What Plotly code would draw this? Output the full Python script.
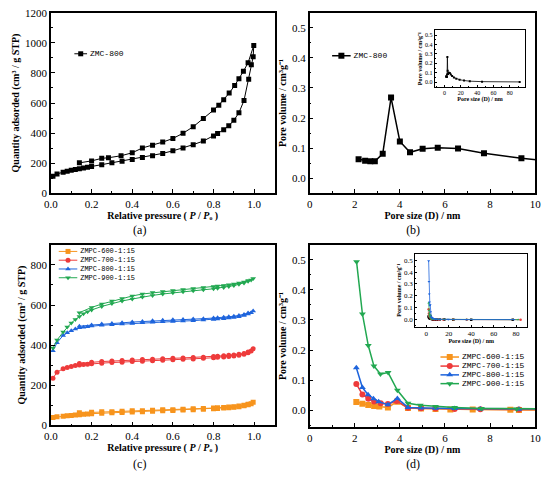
import plotly.graph_objects as go

W, H = 548, 481
def px(x): return x / W
def py(y): return 1 - y / H

# ---------------- data ----------------
# (a) ZMC-800 isotherm
a_ads_p = [0.01, 0.03, 0.06, 0.08, 0.10, 0.12, 0.14, 0.16, 0.18, 0.20, 0.25, 0.30, 0.35, 0.40, 0.45,
           0.50, 0.55, 0.60, 0.65, 0.70, 0.75, 0.80, 0.82, 0.85, 0.875, 0.90, 0.925, 0.95, 0.973,
           0.986, 0.995, 0.998]
a_ads_q = [113, 128, 140, 146, 152, 158, 163, 168, 173, 178, 190, 202, 213, 224, 237,
           250, 265, 282, 300, 323, 347, 380, 397, 423, 448, 485, 535, 617, 758,
           854, 907, 983]
a_des_p = [0.97, 0.947, 0.925, 0.904, 0.877, 0.85, 0.826, 0.80, 0.75, 0.70, 0.65, 0.60, 0.55,
           0.50, 0.45, 0.40, 0.345, 0.283, 0.25, 0.20, 0.14]
a_des_q = [868, 811, 761, 716, 666, 622, 586, 553, 497, 442, 399, 364, 340,
           319, 301, 269, 249, 236, 232, 215, 202]

# (b) ZMC-800 pore size distribution
b_d = [2.17, 2.46, 2.69, 2.89, 3.24, 3.61, 4.0, 4.45, 5.01, 5.68, 6.58, 7.73, 9.39,
       11.6, 14.5, 18.5, 24, 31, 46, 92]
b_v = [0.063, 0.058, 0.056, 0.056, 0.081, 0.268, 0.122, 0.086, 0.098, 0.101, 0.099, 0.083, 0.066,
       0.050, 0.038, 0.027, 0.018, 0.011, 0.006, 0.003]

# (c) ZMPC isotherms
c_ads_p = [0.01, 0.03, 0.06, 0.08, 0.10, 0.12, 0.14, 0.16, 0.18, 0.20, 0.25, 0.30, 0.35, 0.40, 0.45,
           0.50, 0.55, 0.60, 0.65, 0.70, 0.75, 0.80, 0.82, 0.85, 0.875, 0.90, 0.925, 0.95, 0.97,
           0.985, 0.995]
c_des_p = [0.97, 0.95, 0.925, 0.90, 0.875, 0.85, 0.82, 0.80, 0.75, 0.70, 0.65, 0.60, 0.55,
           0.50, 0.45, 0.40, 0.35, 0.30, 0.25, 0.20, 0.14]
c_names = ["ZMPC-600-1:15", "ZMPC-700-1:15", "ZMPC-800-1:15", "ZMPC-900-1:15"]
c600_ads = [39, 42, 45, 47, 49, 51, 53, 55, 56, 58, 60, 62, 64, 66, 68, 70, 72, 74, 76, 78, 80,
            83, 84, 86, 88, 90, 93, 97, 103, 108, 115]
c600_des = [105, 100, 96, 93, 91, 89, 87, 86, 84, 82, 80, 78, 77, 75, 73, 72, 70, 68, 67, 65, 62]
c700_ads = [235, 265, 282, 288, 293, 298, 301, 303, 305, 307, 310, 313, 315, 318, 320, 322, 324,
            327, 329, 331, 334, 337, 339, 341, 343, 346, 349, 354, 362, 370, 382]
c700_des = [366, 358, 354, 351, 349, 347, 345, 343, 340, 338, 336, 334, 332, 330, 328, 326, 323,
            321, 318, 314, 308]
c800_ads = [372, 412, 448, 462, 472, 480, 486, 489, 492, 495, 499, 502, 505, 508, 511, 514, 516,
            518, 520, 522, 525, 528, 530, 532, 535, 538, 542, 548, 555, 562, 570]
c800_des = [560, 553, 548, 544, 541, 539, 537, 535, 532, 530, 528, 526, 524, 521, 518, 515, 511,
            508, 505, 500, 494]
c900_ads = [385, 425, 465, 490, 510, 528, 543, 556, 566, 575, 593, 608, 620, 630, 640, 648, 655,
            661, 666, 671, 676, 681, 684, 688, 692, 697, 703, 710, 718, 725, 732]
c900_des = [722, 715, 710, 705, 701, 698, 695, 693, 688, 683, 678, 673, 668, 662, 655, 645, 632,
            620, 605, 588, 562]

# (d) ZMPC pore size distributions
d600_x = [2.07, 2.34, 2.6, 2.86, 3.09, 3.47, 3.88, 4.36, 4.94, 5.58, 6.24, 7.23, 8.9, 9.28,
          11.8, 16, 24, 40, 77]
d600_y = [0.027, 0.021, 0.017, 0.014, 0.012, 0.009, 0.028, 0.007, 0.005, 0.004, 0.002, 0.002, 0.001, 0.0,
          0.001, 0.001, 0.0, 0.0, 0.0]
d700_x = [2.07, 2.34, 2.6, 2.86, 3.15, 3.47, 3.86, 4.36, 4.94, 5.58, 6.43, 7.57, 9.28,
          11.5, 15, 24, 36, 84]
d700_y = [0.087, 0.052, 0.038, 0.029, 0.023, 0.020, 0.030, 0.008, 0.006, 0.005, 0.004, 0.003, 0.002,
          0.002, 0.001, 0.001, 0.0, 0.0]
d800_x = [2.07, 2.34, 2.59, 2.83, 3.06, 3.47, 3.89, 4.36, 4.94, 5.58, 6.43, 7.57, 9.28,
          11.6, 15.5, 24, 36, 81.8]
d800_y = [0.141, 0.075, 0.051, 0.038, 0.028, 0.018, 0.039, 0.009, 0.007, 0.006, 0.005, 0.004, 0.003,
          0.003, 0.002, 0.001, 0.001, 0.0]
d900_x = [2.08, 2.34, 2.6, 2.85, 3.14, 3.48, 3.89, 4.36, 4.91, 5.58, 6.43, 7.62, 9.18,
          12, 19.5, 35.8, 78]
d900_y = [0.494, 0.32, 0.215, 0.147, 0.120, 0.125, 0.066, 0.023, 0.016, 0.012, 0.009, 0.005, 0.004,
          0.003, 0.002, 0.001, 0.001]

panel_labels = ["(a)", "(b)", "(c)", "(d)"]

colors = ["#F7941D", "#EE3B3B", "#1E64DC", "#22A851"]
symbols = ["square", "circle", "triangle-up", "triangle-down"]
inset_colors = ["#000000", "#EE3B3B", "#22A851", "#1E64DC"]

SERIF = "Liberation Serif"
MONO = "Liberation Mono"

fig = go.Figure()

# (a)
fig.add_trace(go.Scatter(x=a_ads_p + a_des_p, y=a_ads_q + a_des_q, mode="lines+markers",
                         line=dict(color="black", width=1), marker=dict(symbol="square", size=5, color="black"),
                         xaxis="x", yaxis="y", showlegend=False, name="ZMC-800"))
# (b)
fig.add_trace(go.Scatter(x=b_d, y=b_v, mode="lines+markers", line=dict(color="black", width=1.5),
                         marker=dict(symbol="square", size=6, color="black"),
                         xaxis="x2", yaxis="y2", showlegend=False, name="ZMC-800"))
# (b) inset
fig.add_trace(go.Scatter(x=b_d, y=b_v, mode="lines+markers", line=dict(color="black", width=0.8),
                         marker=dict(symbol="square", size=2, color="black"),
                         xaxis="x5", yaxis="y5", showlegend=False, name="ZMC-800"))
# (c)
c_ads = [c600_ads, c700_ads, c800_ads, c900_ads]
c_des = [c600_des, c700_des, c800_des, c900_des]
for i in range(4):
    fig.add_trace(go.Scatter(x=c_ads_p + c_des_p, y=c_ads[i] + c_des[i], mode="lines+markers",
                             line=dict(color=colors[i], width=1),
                             marker=dict(symbol=symbols[i], size=5, color=colors[i]),
                             xaxis="x3", yaxis="y3", showlegend=False, name=c_names[i]))
# (d)
d_x = [d600_x, d700_x, d800_x, d900_x]
d_y = [d600_y, d700_y, d800_y, d900_y]
for i in range(4):
    fig.add_trace(go.Scatter(x=d_x[i], y=d_y[i], mode="lines+markers",
                             line=dict(color=colors[i], width=1.5),
                             marker=dict(symbol=symbols[i], size=6, color=colors[i]),
                             xaxis="x4", yaxis="y4", showlegend=False, name=c_names[i]))
for i in range(4):
    fig.add_trace(go.Scatter(x=d_x[i], y=d_y[i], mode="lines+markers",
                             line=dict(color=inset_colors[i], width=0.8),
                             marker=dict(symbol=symbols[i], size=2.5, color=inset_colors[i]),
                             xaxis="x6", yaxis="y6", showlegend=False, name=c_names[i]))

# ---------------- axes ----------------
def ax(domain, rng, dtick, minor_dtick, tickfmt=None, title=None, tsize=10, fsize=11,
       anchor=None, standoff=None, ticklen=4, tick0=None, lw=1.5):
    d = dict(domain=domain, range=rng, dtick=dtick, showline=True, linecolor="black", linewidth=lw,
             mirror=True, ticks="inside", ticklen=ticklen, tickwidth=1, tickcolor="black",
             showgrid=False, zeroline=False, anchor=anchor,
             tickfont=dict(family=SERIF, size=fsize, color="black"),
             minor=dict(ticks="inside", ticklen=max(ticklen // 2, 1), tickcolor="black", dtick=minor_dtick,
                        showgrid=False))
    if tick0 is not None:
        d["tick0"] = tick0
    if tickfmt:
        d["tickformat"] = tickfmt
    if title:
        t = dict(text=title, font=dict(family=SERIF, size=tsize, color="black", weight="bold"))
        if standoff is not None:
            t["standoff"] = standoff
        d["title"] = t
    return d

ya_title = "Quantity adsorded (cm\u00b3 / g STP)"
xa_title = "Relative pressure ( <i>P</i> / <i>P</i>\u2092 )"
yb_title = "Pore volume / cm\u00b3g\u207b\u00b9"
xb_title = "Pore size (D) / nm"

xa_dom = [px(45), px(274)]
xb_dom = [px(310), px(541)]
ytop_dom = [py(192), py(7)]
ybot_dom_c = [py(430), py(245)]
ybot_dom_d = [py(432), py(245)]

fig.update_layout(
    xaxis=ax(xa_dom, [0, 1.1], 0.2, 0.1, ".1f", xa_title, anchor="y", standoff=2),
    yaxis=ax(ytop_dom, [0, 1200], 200, 100, None, ya_title, anchor="x", standoff=3),
    xaxis2=ax(xb_dom, [0, 10], 2, 1, None, xb_title, anchor="y2", standoff=2),
    yaxis2=ax(ytop_dom, [-0.05, 0.55], 0.1, 0.05, ".1f", yb_title, anchor="x2", standoff=3, tick0=0),
    xaxis3=ax(xa_dom, [0, 1.1], 0.2, 0.1, ".1f", xa_title, anchor="y3", standoff=2),
    yaxis3=ax(ybot_dom_c, [0, 900], 200, 100, None, ya_title, anchor="x3", standoff=3),
    xaxis4=ax(xb_dom, [0, 10], 2, 1, None, xb_title, anchor="y4", standoff=2),
    yaxis4=ax(ybot_dom_d, [-0.057, 0.55], 0.1, 0.05, ".1f", yb_title, anchor="x4", standoff=3, tick0=0),
    xaxis5=ax([px(438), px(531)], [-12, 99], 20, 10, None, xb_title, tsize=6, fsize=6,
              anchor="y5", standoff=1, ticklen=2, lw=1),
    yaxis5=ax([py(83), py(25)], [-0.05, 0.55], 0.1, 0.05, ".1f", yb_title, tsize=6, fsize=6,
              anchor="x5", standoff=1, ticklen=2, tick0=0, lw=1),
    xaxis6=ax([px(418), px(533)], [-10, 90], 20, 10, None, xb_title, tsize=6, fsize=7,
              anchor="y6", standoff=1, ticklen=2, lw=1),
    yaxis6=ax([py(329), py(254)], [-0.06, 0.555], 0.1, 0.05, ".1f", yb_title, tsize=6, fsize=7,
              anchor="x6", standoff=1, ticklen=2, tick0=0, lw=1),
    # full-canvas overlay (pixel units) for legends and panel labels
    xaxis7=dict(domain=[0, 1], range=[0, W], visible=False, anchor="y7", fixedrange=True),
    yaxis7=dict(domain=[0, 1], range=[H, 0], visible=False, anchor="x7", fixedrange=True),
)

# ---------------- manual legends & labels (layout positions, in px) ----------------
shapes = []

def legend_block(x0, x1, rows, cols, syms, names, tsize, msize, lw):
    for y, c in zip(rows, cols):
        shapes.append(dict(type="line", xref="paper", yref="paper", x0=px(x0), x1=px(x1),
                           y0=py(y), y1=py(y), line=dict(color=c, width=lw)))
    xm = (x0 + x1) / 2
    fig.add_trace(go.Scatter(x=[xm] * len(rows), y=rows, mode="markers",
                             marker=dict(symbol=syms, size=msize, color=cols),
                             xaxis="x7", yaxis="y7", showlegend=False, hoverinfo="skip", cliponaxis=False))
    fig.add_trace(go.Scatter(x=[x1 + 3] * len(rows), y=rows, mode="text", text=names,
                             textposition="middle right",
                             textfont=dict(family=MONO, size=tsize, color="black"),
                             xaxis="x7", yaxis="y7", showlegend=False, hoverinfo="skip", cliponaxis=False))

legend_block(69, 82, [49], ["black"], ["square"], ["ZMC-800"], 8, 5, 1)
legend_block(333, 352, [51], ["black"], ["square"], ["ZMC-800"], 8, 6, 1.5)
legend_block(53, 72, [251.7, 260.7, 269.7, 278.7], colors, symbols, c_names, 7, 5, 1)
legend_block(444, 463, [360, 369.3, 378.3, 387.3], colors, symbols, c_names, 8, 6, 1.5)

fig.add_trace(go.Scatter(x=[136, 416, 136, 416], y=[231, 231, 471, 471], mode="text", text=panel_labels,
                         textposition="middle center",
                         textfont=dict(family=SERIF, size=12, color="black"),
                         xaxis="x7", yaxis="y7", showlegend=False, hoverinfo="skip", cliponaxis=False))

fig.update_layout(shapes=shapes,
                  width=W, height=H, autosize=False, margin=dict(l=0, r=0, t=0, b=0),
                  paper_bgcolor="white", plot_bgcolor="rgba(0,0,0,0)", showlegend=False)

fig.write_html("out.html")
